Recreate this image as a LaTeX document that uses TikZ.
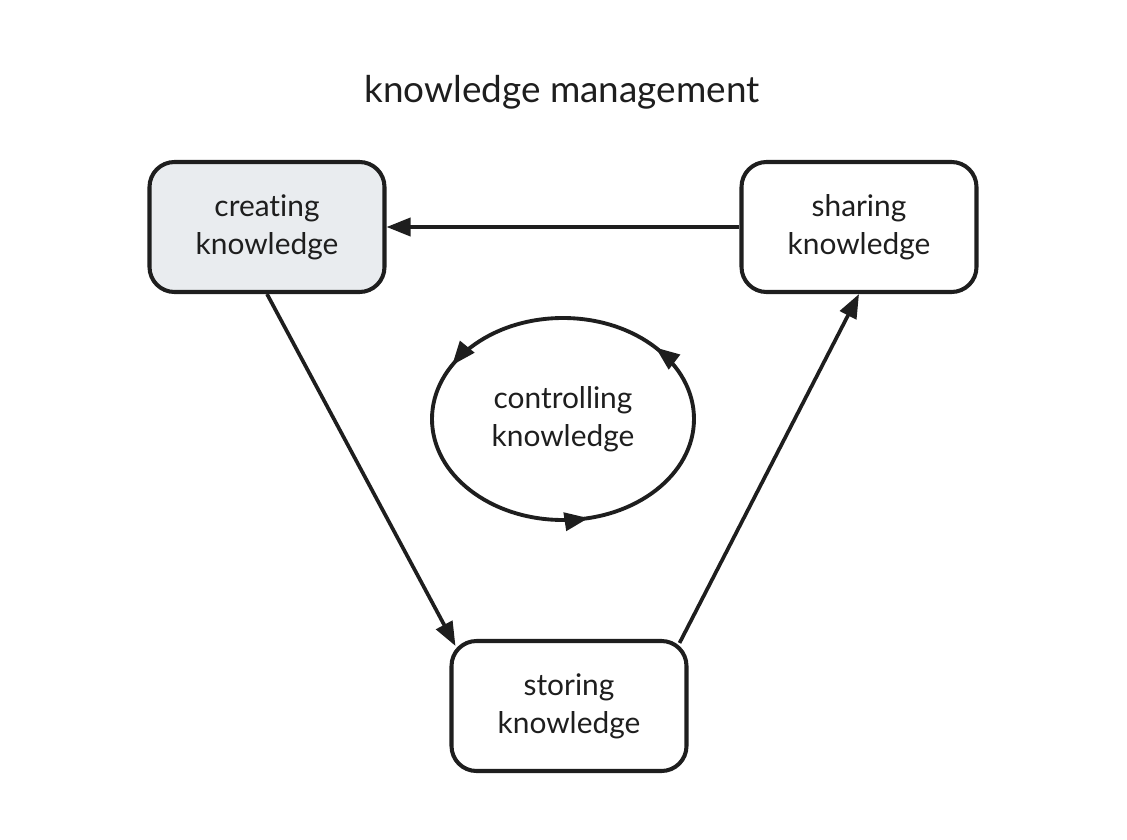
\documentclass[tikz,border=0pt]{standalone}
\usepackage{fontspec}
\setmainfont{Lato}[Ligatures=NoCommon]
\usepackage{xcolor}
\usepackage{tikz}
\usetikzlibrary{arrows.meta,positioning,calc,decorations.markings}

\definecolor{ink}{HTML}{1E1E1E}
\definecolor{paleblue}{HTML}{E9ECEF}

\begin{document}
\begin{tikzpicture}[
  every node/.style={font=\fontsize{17}{21.5}\selectfont, text=ink, align=center},
  stage/.style={rectangle, rounded corners=0.5cm, draw=ink, line width=2.3pt, minimum width=4.7cm, minimum height=2.6cm},
  flow/.style={draw=ink, line width=2.1pt, -{Triangle[length=0.48cm,width=0.36cm]}},
  loop/.style={draw=ink, line width=2.2pt, postaction={decorate}, decoration={markings,
      mark=at position 0.115 with {\arrow{Triangle[length=0.48cm,width=0.36cm]}},
      mark=at position 0.42 with {\arrow{Triangle[length=0.48cm,width=0.36cm]}},
      mark=at position 0.785 with {\arrow{Triangle[length=0.48cm,width=0.36cm]}}}}
]
  \useasboundingbox (0,0) rectangle (22.54,-16.8);

  \node[font=\fontsize{21}{25}\selectfont] (title) at (11.24,-1.84) {knowledge management};

  \node[stage, fill=paleblue] (create) at (5.34,-4.54) {creating\\knowledge};
  \node[stage] (share) at (17.18,-4.54) {sharing\\knowledge};
  \node[stage] (store) at (11.38,-14.12) {storing\\knowledge};

  \node (ctrl) at (11.26,-8.38) {controlling\\knowledge};
  \draw[loop] (ctrl.center) ellipse [x radius=2.62cm, y radius=2.02cm];

  % knowledge cycle
  \draw[flow] (share.west) -- (create.east);
  \draw[flow] (create.south) -- ($(store.north west)+(0.12,-0.14)$);
  \draw[flow] ($(store.north east)+(-0.18,-0.08)$) -- (share.south);
\end{tikzpicture}
\end{document}
